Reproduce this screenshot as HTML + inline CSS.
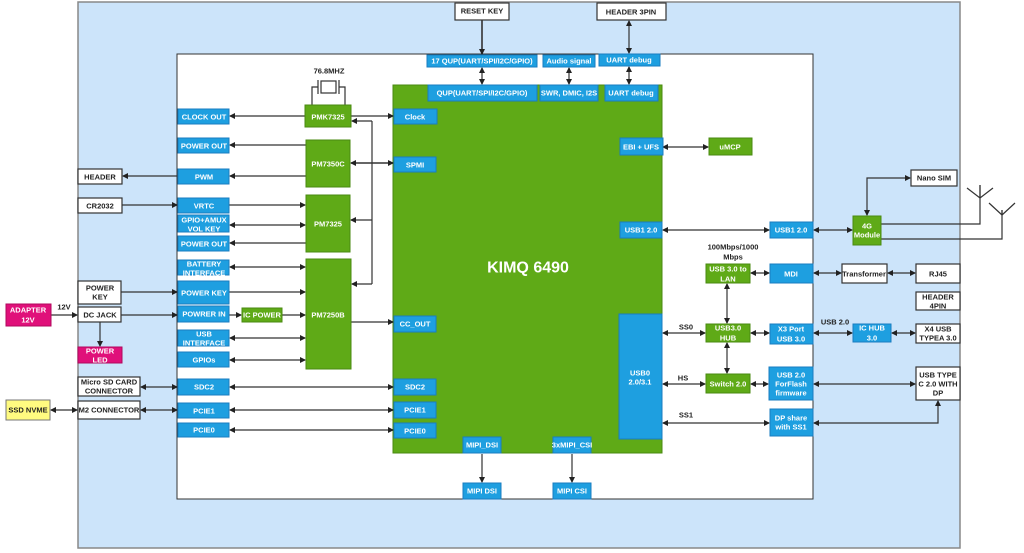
<!DOCTYPE html>
<html><head><meta charset="utf-8"><style>
html,body{margin:0;padding:0;background:#fff;}
svg{display:block;}
text{font-family:"Liberation Sans",sans-serif;font-weight:bold;font-size:7.5px;text-anchor:middle;dominant-baseline:central;}
.b{fill:#1e9fe0;stroke:#1a7cc0;stroke-width:1;}
.g{fill:#5faa17;stroke:#4a8a10;stroke-width:1;}
.w{fill:#fff;stroke:#333;stroke-width:1.2;}
.m{fill:#e0107a;stroke:#b0085e;}
.y{fill:#fffb80;stroke:#777;}
.tw{fill:#fff;}
.tk{fill:#222;}
.l{stroke:#333;stroke-width:1.2;fill:none;}
</style></head><body>
<svg width="1024" height="553" viewBox="0 0 1024 553">
<defs>
<marker id="a" markerWidth="6" markerHeight="6" refX="5" refY="3" orient="auto-start-reverse" markerUnits="userSpaceOnUse"><path d="M0,0 L6,3 L0,6 z" fill="#222"/></marker>
</defs>
<rect x="78" y="2" width="882" height="546" fill="#cce4fa" stroke="#888" stroke-width="1.5"/>
<rect x="177" y="54" width="636" height="445" fill="#fff" stroke="#333" stroke-width="1"/>
<rect x="393" y="85" width="269" height="368" class="g"/>
<text x="528" y="268" class="tw" style="font-size:16px">KIMQ 6490</text>

<!-- lines -->
<g class="l">
<path d="M305,116 H230" marker-end="url(#a)"/>
<path d="M306,145 H230" marker-end="url(#a)"/>
<path d="M306,176 H230" marker-end="url(#a)"/>
<path d="M178,176 H123" marker-end="url(#a)"/>
<path d="M122,205 H177" marker-end="url(#a)"/>
<path d="M229,205 H305" marker-end="url(#a)"/>
<path d="M230,225 H305" marker-start="url(#a)" marker-end="url(#a)"/>
<path d="M306,243 H230" marker-end="url(#a)"/>
<path d="M230,267 H305" marker-start="url(#a)" marker-end="url(#a)"/>
<path d="M121,292 H177" marker-end="url(#a)"/>
<path d="M229,292 H305" marker-end="url(#a)"/>
<path d="M51,315 H77" marker-end="url(#a)"/>
<path d="M121,315 H177" marker-end="url(#a)"/>
<path d="M229,315 H241" marker-end="url(#a)"/>
<path d="M282,315 H305" marker-end="url(#a)"/>
<path d="M100,322 V346" marker-end="url(#a)"/>
<path d="M230,338 H305" marker-start="url(#a)" marker-end="url(#a)"/>
<path d="M230,360 H305" marker-start="url(#a)" marker-end="url(#a)"/>
<path d="M141,387 H177" marker-start="url(#a)" marker-end="url(#a)"/>
<path d="M230,387 H393" marker-start="url(#a)" marker-end="url(#a)"/>
<path d="M51,410 H77" marker-start="url(#a)" marker-end="url(#a)"/>
<path d="M141,410 H177" marker-start="url(#a)" marker-end="url(#a)"/>
<path d="M230,410 H393" marker-start="url(#a)" marker-end="url(#a)"/>
<path d="M230,430 H393" marker-start="url(#a)" marker-end="url(#a)"/>
<path d="M351,116 H393" marker-end="url(#a)"/>
<path d="M372,121 V284"/>
<path d="M372,121 H352" marker-end="url(#a)"/>
<path d="M372,220 H351" marker-end="url(#a)"/>
<path d="M372,284 H352" marker-end="url(#a)"/>
<path d="M351,163 H393" marker-start="url(#a)" marker-end="url(#a)" style="stroke-width:1.6"/>
<path d="M351,322 H393" marker-end="url(#a)"/>
<path d="M482,20 V54" marker-end="url(#a)" style="stroke-width:1.6"/>
<path d="M482,68 V84" marker-start="url(#a)" marker-end="url(#a)"/>
<path d="M569,68 V84" marker-start="url(#a)" marker-end="url(#a)"/>
<path d="M629,21 V53" marker-start="url(#a)" marker-end="url(#a)"/>
<path d="M629,67 V84" marker-start="url(#a)" marker-end="url(#a)"/>
<path d="M663,147 H708" marker-start="url(#a)" marker-end="url(#a)"/>
<path d="M663,230 H769" marker-start="url(#a)" marker-end="url(#a)"/>
<path d="M814,230 H852" marker-start="url(#a)" marker-end="url(#a)"/>
<path d="M867,215 V178 H910" marker-start="url(#a)" marker-end="url(#a)"/>
<path d="M881,224 H980 V185"/>
<path d="M881,239 H1002 V210"/>
<path d="M967,188 L980,198 L993,188 M980,185 V198"/>
<path d="M989,203 L1002,215 L1015,203 M1002,210 V215"/>
<path d="M751,273 H769" marker-start="url(#a)" marker-end="url(#a)"/>
<path d="M814,273 H841" marker-start="url(#a)" marker-end="url(#a)"/>
<path d="M888,273 H915" marker-start="url(#a)" marker-end="url(#a)"/>
<path d="M727,284 V323" marker-start="url(#a)" marker-end="url(#a)"/>
<path d="M727,343 V373" marker-start="url(#a)" marker-end="url(#a)"/>
<path d="M663,333 H705" marker-start="url(#a)" marker-end="url(#a)"/>
<path d="M751,333 H769" marker-start="url(#a)" marker-end="url(#a)"/>
<path d="M814,333 H852" marker-start="url(#a)" marker-end="url(#a)"/>
<path d="M892,333 H915" marker-start="url(#a)" marker-end="url(#a)"/>
<path d="M663,384 H705" marker-start="url(#a)" marker-end="url(#a)"/>
<path d="M751,384 H768" marker-start="url(#a)" marker-end="url(#a)"/>
<path d="M814,384 H915" marker-start="url(#a)" marker-end="url(#a)"/>
<path d="M663,423 H769" marker-start="url(#a)" marker-end="url(#a)"/>
<path d="M814,423 H938 V401" marker-start="url(#a)" marker-end="url(#a)"/>
<path d="M482,454 V482" marker-end="url(#a)"/>
<path d="M572,454 V482" marker-end="url(#a)"/>
<path d="M312,105 V87 H318 M345,105 V87 H339"/>
<path d="M318,80 V94 M339,80 V94"/>
<rect x="321" y="81" width="15" height="12"/>
</g>

<!-- left blue -->
<rect x="178" y="109" width="51" height="15" class="b"/><text x="204" y="117" class="tw">CLOCK OUT</text>
<rect x="178" y="138" width="51" height="15" class="b"/><text x="204" y="146" class="tw">POWER OUT</text>
<rect x="178" y="169" width="51" height="15" class="b"/><text x="204" y="177" class="tw">PWM</text>
<rect x="178" y="198" width="51" height="15" class="b"/><text x="204" y="206" class="tw">VRTC</text>
<rect x="178" y="215" width="51" height="17" class="b"/><text x="204" y="220" class="tw">GPIO+AMUX</text><text x="204" y="229" class="tw">VOL KEY</text>
<rect x="178" y="236" width="51" height="15" class="b"/><text x="204" y="244" class="tw">POWER OUT</text>
<rect x="178" y="260" width="51" height="15" class="b"/><text x="204" y="264" class="tw">BATTERY</text><text x="204" y="273" class="tw">INTERFACE</text>
<rect x="178" y="281" width="51" height="23" class="b"/><text x="204" y="293" class="tw">POWER KEY</text>
<rect x="178" y="306" width="51" height="16" class="b"/><text x="204" y="314" class="tw">POWRER IN</text>
<rect x="178" y="330" width="51" height="16" class="b"/><text x="204" y="334" class="tw">USB</text><text x="204" y="343" class="tw">INTERFACE</text>
<rect x="178" y="352" width="51" height="15" class="b"/><text x="204" y="360" class="tw">GPIOs</text>
<rect x="178" y="379" width="51" height="16" class="b"/><text x="204" y="387" class="tw">SDC2</text>
<rect x="178" y="403" width="51" height="15" class="b"/><text x="204" y="411" class="tw">PCIE1</text>
<rect x="178" y="423" width="51" height="14" class="b"/><text x="204" y="430" class="tw">PCIE0</text>

<!-- PMICs -->
<rect x="305" y="105" width="46" height="22" class="g"/><text x="328" y="117" class="tw">PMK7325</text>
<rect x="306" y="140" width="44" height="47" class="g"/><text x="328" y="164" class="tw">PM7350C</text>
<rect x="306" y="195" width="44" height="57" class="g"/><text x="328" y="224" class="tw">PM7325</text>
<rect x="306" y="259" width="45" height="110" class="g"/><text x="328" y="315" class="tw">PM7250B</text>
<rect x="242" y="308" width="40" height="14" class="g"/><text x="262" y="315" class="tw">IC POWER</text>
<text x="329" y="71" class="tk">76.8MHZ</text>

<!-- left white -->
<rect x="78" y="169" width="44" height="15" class="w"/><text x="100" y="177" class="tk">HEADER</text>
<rect x="78" y="198" width="44" height="15" class="w"/><text x="100" y="206" class="tk">CR2032</text>
<rect x="78" y="281" width="43" height="23" class="w"/><text x="100" y="288" class="tk">POWER</text><text x="100" y="297" class="tk">KEY</text>
<rect x="78" y="307" width="43" height="15" class="w"/><text x="100" y="315" class="tk">DC JACK</text>
<rect x="78" y="347" width="44" height="16" class="m"/><text x="100" y="351" class="tw">POWER</text><text x="100" y="360" class="tw">LED</text>
<rect x="78" y="377" width="62" height="19" class="w"/><text x="109" y="382" class="tk">Micro SD CARD</text><text x="109" y="391" class="tk">CONNECTOR</text>
<rect x="78" y="401" width="62" height="18" class="w"/><text x="109" y="410" class="tk">M2 CONNECTOR</text>
<rect x="6" y="304" width="45" height="22" class="m"/><text x="28" y="310" class="tw">ADAPTER</text><text x="28" y="320" class="tw">12V</text>
<text x="64" y="307" class="tk">12V</text>
<rect x="6" y="400" width="44" height="20" class="y"/><text x="28" y="410" class="tk">SSD NVME</text>

<!-- SoC internal -->
<rect x="394" y="109" width="43" height="15" class="b"/><text x="415" y="117" class="tw">Clock</text>
<rect x="394" y="157" width="42" height="15" class="b"/><text x="415" y="165" class="tw">SPMI</text>
<rect x="394" y="316" width="42" height="16" class="b"/><text x="415" y="324" class="tw">CC_OUT</text>
<rect x="394" y="379" width="42" height="16" class="b"/><text x="415" y="387" class="tw">SDC2</text>
<rect x="394" y="402" width="42" height="16" class="b"/><text x="415" y="410" class="tw">PCIE1</text>
<rect x="394" y="423" width="42" height="15" class="b"/><text x="415" y="431" class="tw">PCIE0</text>
<rect x="428" y="85" width="109" height="16" class="b"/><text x="482" y="93" class="tw">QUP(UART/SPI/I2C/GPIO)</text>
<rect x="540" y="85" width="58" height="16" class="b"/><text x="569" y="93" class="tw">SWR, DMIC, I2S</text>
<rect x="605" y="85" width="53" height="16" class="b"/><text x="631" y="93" class="tw">UART debug</text>
<rect x="427" y="55" width="110" height="12" class="b"/><text x="482" y="61" class="tw">17 QUP(UART/SPI/I2C/GPIO)</text>
<rect x="543" y="55" width="52" height="12" class="b"/><text x="569" y="61" class="tw">Audio signal</text>
<rect x="599" y="54" width="61" height="12" class="b"/><text x="629" y="60" class="tw">UART debug</text>
<rect x="455" y="3" width="54" height="17" class="w"/><text x="482" y="11" class="tk">RESET KEY</text>
<rect x="597" y="3" width="69" height="17" class="w"/><text x="631" y="12" class="tk">HEADER 3PIN</text>
<rect x="620" y="138" width="43" height="17" class="b"/><text x="641" y="147" class="tw">EBI + UFS</text>
<rect x="709" y="138" width="43" height="17" class="g"/><text x="730" y="147" class="tw">uMCP</text>
<rect x="620" y="222" width="42" height="16" class="b"/><text x="641" y="230" class="tw">USB1 2.0</text>
<rect x="619" y="314" width="43" height="125" class="b"/><text x="640" y="373" class="tw">USB0</text><text x="640" y="382" class="tw">2.0/3.1</text>
<rect x="463" y="437" width="38" height="16" class="b"/><text x="482" y="445" class="tw">MIPI_DSI</text>
<rect x="553" y="437" width="38" height="16" class="b"/><text x="572" y="445" class="tw">3xMIPI_CSI</text>
<rect x="463" y="483" width="38" height="16" class="b"/><text x="482" y="491" class="tw">MIPI DSI</text>
<rect x="553" y="483" width="38" height="16" class="b"/><text x="572" y="491" class="tw">MIPI CSI</text>

<!-- right -->
<rect x="770" y="222" width="43" height="16" class="b"/><text x="791" y="230" class="tw">USB1 2.0</text>
<rect x="853" y="216" width="28" height="29" class="g"/><text x="867" y="226" class="tw">4G</text><text x="867" y="235" class="tw">Module</text>
<rect x="911" y="170" width="46" height="16" class="w"/><text x="934" y="178" class="tk">Nano SIM</text>
<text x="733" y="247" class="tk">100Mbps/1000</text><text x="733" y="257" class="tk">Mbps</text>
<rect x="706" y="264" width="44" height="19" class="g"/><text x="728" y="269" class="tw">USB 3.0 to</text><text x="728" y="279" class="tw">LAN</text>
<rect x="770" y="264" width="43" height="19" class="b"/><text x="791" y="274" class="tw">MDI</text>
<rect x="842" y="264" width="45" height="19" class="w"/><text x="864" y="274" class="tk">Transformer</text>
<rect x="916" y="264" width="44" height="19" class="w"/><text x="938" y="274" class="tk">RJ45</text>
<rect x="916" y="292" width="44" height="18" class="w"/><text x="938" y="297" class="tk">HEADER</text><text x="938" y="306" class="tk">4PIN</text>
<rect x="706" y="324" width="44" height="18" class="g"/><text x="728" y="328" class="tw">USB3.0</text><text x="728" y="338" class="tw">HUB</text>
<rect x="770" y="324" width="43" height="20" class="b"/><text x="791" y="329" class="tw">X3 Port</text><text x="791" y="339" class="tw">USB 3.0</text>
<text x="835" y="322" class="tk">USB 2.0</text>
<rect x="853" y="324" width="38" height="18" class="b"/><text x="872" y="328" class="tw">IC HUB</text><text x="872" y="338" class="tw">3.0</text>
<rect x="916" y="324" width="44" height="19" class="w"/><text x="938" y="329" class="tk">X4 USB</text><text x="938" y="338" class="tk">TYPEA 3.0</text>
<text x="686" y="327" class="tk">SS0</text>
<text x="683" y="378" class="tk">HS</text>
<text x="686" y="415" class="tk">SS1</text>
<rect x="706" y="374" width="44" height="19" class="g"/><text x="728" y="384" class="tw">Switch 2.0</text>
<rect x="769" y="367" width="44" height="33" class="b"/><text x="791" y="375" class="tw">USB 2.0</text><text x="791" y="384" class="tw">ForFlash</text><text x="791" y="393" class="tw">firmware</text>
<rect x="916" y="367" width="44" height="33" class="w"/><text x="938" y="375" class="tk">USB TYPE</text><text x="938" y="384" class="tk">C 2.0 WITH</text><text x="938" y="393" class="tk">DP</text>
<rect x="770" y="409" width="43" height="27" class="b"/><text x="791" y="418" class="tw">DP share</text><text x="791" y="427" class="tw">with SS1</text>
</svg>
</body></html>
